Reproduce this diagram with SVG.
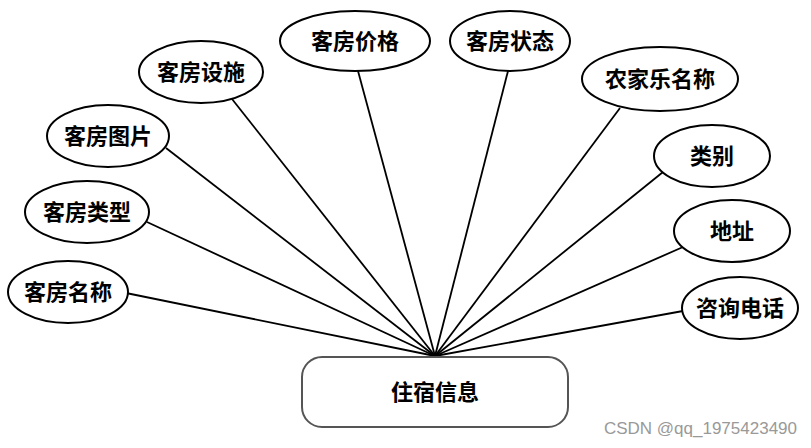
<svg xmlns="http://www.w3.org/2000/svg" width="811" height="448" viewBox="0 0 811 448">
<style>
.n{fill:#fff;stroke:#000;stroke-width:2}
.t{font-family:"Liberation Serif","Noto Sans CJK SC",serif;font-size:22px;font-weight:bold;text-anchor:middle;dominant-baseline:central}
.c line{stroke:#000;stroke-width:1.8}
</style>
<rect width="811" height="448" fill="#fff"/>
<g class="c">
<line x1="126" y1="293" x2="435" y2="356"/>
<line x1="147" y1="222" x2="435" y2="356"/>
<line x1="166" y1="148" x2="435" y2="356"/>
<line x1="232" y1="99" x2="435" y2="356"/>
<line x1="358" y1="71" x2="435" y2="356"/>
<line x1="508" y1="71" x2="435" y2="356"/>
<line x1="620" y1="108" x2="435" y2="356"/>
<line x1="663" y1="172" x2="435" y2="356"/>
<line x1="683" y1="247" x2="435" y2="356"/>
<line x1="683" y1="311" x2="435" y2="356"/>
</g>
<g id="center"><rect x="302" y="357" width="266" height="70" rx="20" fill="#fff" stroke="#555" stroke-width="2"/><text class="t" x="435" y="392">住宿信息</text></g>
<g id="a1"><ellipse class="n" cx="68" cy="292" rx="60" ry="31"/><text class="t" x="68" y="292">客房名称</text></g>
<g id="a2"><ellipse class="n" cx="87" cy="212" rx="62" ry="31"/><text class="t" x="87" y="212">客房类型</text></g>
<g id="a3"><ellipse class="n" cx="108" cy="136" rx="61" ry="31"/><text class="t" x="108" y="136">客房图片</text></g>
<g id="a4"><ellipse class="n" cx="201" cy="72" rx="62" ry="31"/><text class="t" x="201" y="72">客房设施</text></g>
<g id="a5"><ellipse class="n" cx="355" cy="41" rx="75" ry="30"/><text class="t" x="355" y="41">客房价格</text></g>
<g id="a6"><ellipse class="n" cx="510" cy="41" rx="60" ry="30"/><text class="t" x="510" y="41">客房状态</text></g>
<g id="a7"><ellipse class="n" cx="660" cy="79" rx="78" ry="32"/><text class="t" x="660" y="79">农家乐名称</text></g>
<g id="a8"><ellipse class="n" cx="712" cy="156" rx="58" ry="31"/><text class="t" x="712" y="156">类别</text></g>
<g id="a9"><ellipse class="n" cx="732" cy="231" rx="58" ry="31"/><text class="t" x="732" y="231">地址</text></g>
<g id="a10"><ellipse class="n" cx="740" cy="308" rx="58" ry="31"/><text class="t" x="740" y="308">咨询电话</text></g>
<text x="797" y="434" font-family="Liberation Sans,sans-serif" font-size="17" fill="#999" text-anchor="end">CSDN @qq_1975423490</text>
</svg>
